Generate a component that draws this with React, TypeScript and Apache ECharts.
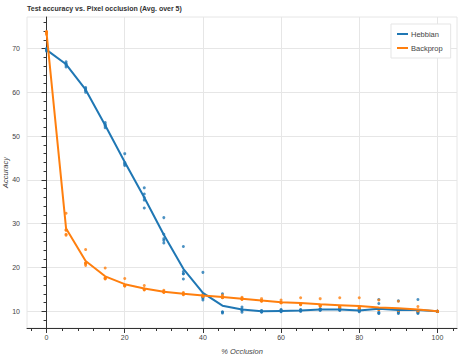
import React, { useEffect, useRef } from "react";
import * as echarts from "echarts";

const occlusion = [0, 5, 10, 15, 20, 25, 30, 35, 40, 45, 50, 55, 60, 65, 70, 75, 80, 85, 90, 95, 100];

const hebbianMean = [69.7, 66.4, 60.6, 52.5, 44.1, 36.0, 27.5, 19.7, 14.2, 11.3, 10.4, 10.0, 10.1, 10.2, 10.4, 10.4, 10.2, 10.6, 10.3, 10.3, 10.0];
const backpropMean = [73.6, 28.9, 21.5, 18.0, 16.2, 15.2, 14.5, 14.0, 13.6, 13.3, 12.9, 12.5, 12.1, 11.9, 11.6, 11.4, 11.2, 10.9, 10.7, 10.4, 10.0];

const hebbianRuns = [
  [69.4, 69.8, 70.0, 69.6, 69.9],
  [65.8, 66.2, 66.6, 67.0, 66.4],
  [60.0, 60.4, 60.8, 61.1, 60.5],
  [51.9, 52.3, 52.7, 53.1, 52.5],
  [46.0, 43.3, 43.6, 44.0, 43.8],
  [38.2, 36.8, 35.4, 33.6, 36.0],
  [31.4, 27.6, 26.6, 25.6, 26.2],
  [24.8, 19.1, 18.6, 17.4, 18.6],
  [18.9, 12.6, 13.0, 13.2, 13.3],
  [14.0, 13.2, 9.9, 9.8, 9.6],
  [11.0, 10.3, 10.2, 10.5, 9.8],
  [10.0, 10.2, 9.8, 10.1, 9.9],
  [10.4, 10.1, 10.0, 10.3, 9.9],
  [10.2, 10.0, 10.4, 10.3, 10.1],
  [10.6, 10.3, 10.2, 10.5, 10.4],
  [10.5, 10.2, 10.6, 10.3, 10.4],
  [10.0, 10.4, 10.2, 10.3, 9.9],
  [12.7, 11.8, 9.6, 9.8, 9.5],
  [12.4, 10.0, 9.7, 9.5, 10.0],
  [12.7, 9.7, 9.5, 10.0, 9.8],
  [10.0, 10.0, 10.0, 10.0, 10.0],
];

const backpropRuns = [
  [73.2, 73.5, 73.9, 73.7, 73.8],
  [32.4, 28.5, 27.4, 27.6, 28.6],
  [24.1, 20.9, 20.5, 21.0, 21.0],
  [19.9, 17.5, 17.4, 17.6, 17.6],
  [17.5, 16.0, 15.8, 15.9, 15.8],
  [15.9, 15.0, 14.9, 15.1, 15.1],
  [14.8, 14.4, 14.3, 14.5, 14.5],
  [14.3, 13.9, 13.8, 14.0, 14.0],
  [13.9, 13.4, 13.5, 13.6, 13.6],
  [13.7, 13.2, 13.1, 13.3, 13.2],
  [13.2, 12.8, 12.7, 12.9, 12.9],
  [12.9, 12.4, 12.3, 12.5, 12.4],
  [12.6, 12.0, 11.9, 12.0, 12.0],
  [13.1, 11.7, 11.5, 11.6, 11.6],
  [12.9, 11.4, 11.2, 11.3, 11.2],
  [13.1, 11.1, 11.0, 10.9, 10.9],
  [13.1, 10.8, 10.7, 10.7, 10.6],
  [12.6, 10.6, 10.5, 10.4, 10.4],
  [12.3, 10.4, 10.3, 10.3, 10.2],
  [11.1, 10.2, 10.1, 10.2, 10.3],
  [10.0, 10.0, 10.0, 10.0, 10.0],
];

const xMajorTicks = [0, 20, 40, 60, 80, 100];
const xMinorTicks = [-4, 4, 8, 12, 16, 24, 28, 32, 36, 44, 48, 52, 56, 64, 68, 72, 76, 84, 88, 92, 96, 104];
const yMajorTicks = [10, 20, 30, 40, 50, 60, 70];
const yMinorTicks = [8, 12, 14, 16, 18, 22, 24, 26, 28, 32, 34, 36, 38, 42, 44, 46, 48, 52, 54, 56, 58, 62, 64, 66, 68, 72, 74, 76];

const BLUE = "#1f77b4";
const ORANGE = "#ff7f0e";
const FONT = "'Liberation Sans', Arial, sans-serif";

export default function App() {
  const ref = useRef<HTMLDivElement>(null);
  useEffect(() => {
    if (!ref.current) return;
    const chart = echarts.init(ref.current, null, { renderer: "svg" });
    const runPoints = (runs: number[][]) => {
      const pts: number[][] = [];
      runs.forEach((vals, i) => vals.forEach((v) => pts.push([occlusion[i], v])));
      return pts;
    };
    const axisColor = "#333";
    const gridColor = "#e6e6e6";
    const xMin = -5, xMax = 105, yMin = 6.2, yMax = 77.2;
    chart.setOption({
      animation: false,
      backgroundColor: "#fff",
      textStyle: { fontFamily: FONT },
      graphic: [
        {
          type: "text",
          x: 27,
          y: 5,
          style: {
            text: "Test accuracy vs. Pixel occlusion (Avg. over 5)",
            fontSize: 7,
            fontWeight: "bold",
            fill: "#333",
            fontFamily: FONT,
            align: "left",
            verticalAlign: "top",
          },
        },
      ],
      legend: {
        orient: "vertical",
        left: 391,
        top: 24,
        data: [
          { name: "Hebbian", icon: "rect" },
          { name: "Backprop", icon: "rect" },
        ],
        itemWidth: 11,
        itemHeight: 2,
        itemGap: 6,
        padding: [6, 8, 6, 6],
        backgroundColor: "#fff",
        borderColor: "#e5e5e5",
        borderWidth: 1,
        textStyle: { fontSize: 7.5, color: "#444", fontFamily: FONT, padding: [0, 0, 0, -2] },
      },
      grid: {
        left: 27,
        right: 17,
        top: 17,
        bottom: 27,
        outerBoundsMode: "none",
        containLabel: false,
        show: true,
        borderColor: gridColor,
        borderWidth: 1,
      },
      xAxis: [
        {
          type: "value",
          min: xMin,
          max: xMax,
          position: "bottom",
          name: "% Occlusion",
          nameLocation: "middle",
          nameGap: 19,
          nameMoveOverlap: false,
          nameTextStyle: { fontSize: 7.5, fontStyle: "italic", color: "#444", fontFamily: FONT },
          axisLine: { show: true, lineStyle: { color: axisColor, width: 1 } },
          axisTick: { show: true, customValues: xMajorTicks, length: 5, lineStyle: { color: axisColor } },
          axisLabel: { customValues: xMajorTicks, fontSize: 7, color: "#444", margin: 6, fontFamily: FONT },
          splitLine: { show: true, lineStyle: { color: gridColor, width: 1 } },
        },
        {
          type: "value",
          min: xMin,
          max: xMax,
          position: "bottom",
          axisLine: { show: false },
          axisTick: { show: true, customValues: xMinorTicks, length: 3, lineStyle: { color: axisColor } },
          axisLabel: { show: false },
          splitLine: { show: false },
        },
      ],
      yAxis: [
        {
          type: "value",
          min: yMin,
          max: yMax,
          position: "left",
          name: "Accuracy",
          nameLocation: "middle",
          nameGap: 18,
          nameRotate: 90,
          nameMoveOverlap: false,
          nameTextStyle: { fontSize: 7.5, fontStyle: "italic", color: "#444", fontFamily: FONT },
          axisLine: { show: true, lineStyle: { color: axisColor, width: 1 } },
          axisTick: { show: true, customValues: yMajorTicks, length: 5, lineStyle: { color: axisColor } },
          axisLabel: { customValues: yMajorTicks, fontSize: 7, color: "#444", margin: 7, fontFamily: FONT },
          splitLine: { show: true, lineStyle: { color: gridColor, width: 1 } },
        },
        {
          type: "value",
          min: yMin,
          max: yMax,
          position: "left",
          axisLine: { show: false },
          axisTick: { show: true, customValues: yMinorTicks, length: 3, lineStyle: { color: axisColor } },
          axisLabel: { show: false },
          splitLine: { show: false },
        },
      ],
      series: [
        {
          name: "Hebbian runs",
          type: "scatter",
          data: runPoints(hebbianRuns),
          symbolSize: 3,
          itemStyle: { color: BLUE },
          clip: false,
          z: 3,
        },
        {
          name: "Backprop runs",
          type: "scatter",
          data: runPoints(backpropRuns),
          symbolSize: 3,
          itemStyle: { color: ORANGE },
          clip: false,
          z: 3,
        },
        {
          name: "Hebbian",
          type: "line",
          data: occlusion.map((x, i) => [x, hebbianMean[i]]),
          showSymbol: false,
          symbol: "none",
          lineStyle: { color: BLUE, width: 2 },
          itemStyle: { color: BLUE },
          clip: false,
          z: 4,
        },
        {
          name: "Backprop",
          type: "line",
          data: occlusion.map((x, i) => [x, backpropMean[i]]),
          showSymbol: false,
          symbol: "none",
          lineStyle: { color: ORANGE, width: 2 },
          itemStyle: { color: ORANGE },
          clip: false,
          z: 5,
        },
      ],
    });
    return () => chart.dispose();
  }, []);
  return (
    <div
      ref={ref}
      style={{ position: "absolute", left: 0, top: 0, width: 474, height: 355 }}
    />
  );
}
